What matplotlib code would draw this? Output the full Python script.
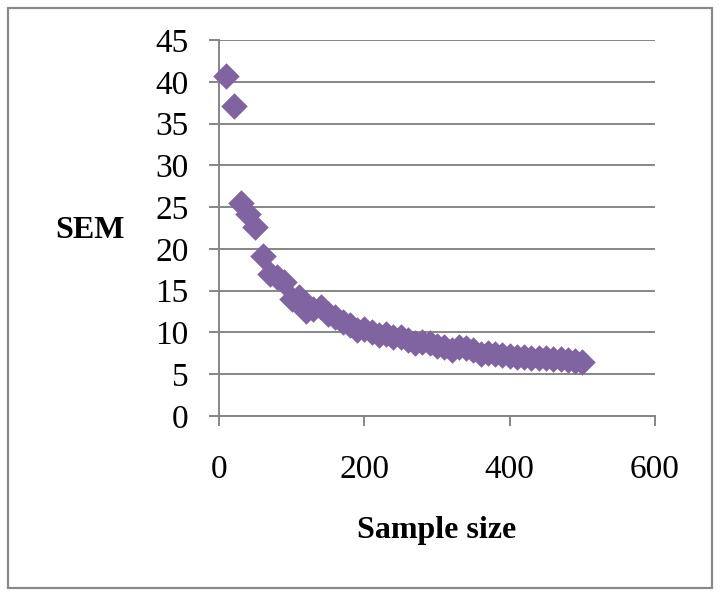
import matplotlib
matplotlib.use("Agg")
import matplotlib.pyplot as plt
from matplotlib.patches import Rectangle

sample_size = [10, 20, 30, 40, 50, 60, 70, 80, 90, 100,
               110, 120, 130, 140, 150, 160, 170, 180, 190, 200,
               210, 220, 230, 240, 250, 260, 270, 280, 290, 300,
               310, 320, 330, 340, 350, 360, 370, 380, 390, 400,
               410, 420, 430, 440, 450, 460, 470, 480, 490, 500]
sem = [40.7, 37.1, 25.5, 24.2, 22.6, 19.1, 17.0, 16.6, 16.0, 14.0,
       14.2, 12.6, 12.8, 13.0, 12.2, 11.8, 11.2, 10.9, 10.3, 10.4,
       10.0, 9.7, 9.8, 9.5, 9.4, 9.1, 8.7, 8.8, 8.7, 8.4,
       8.2, 7.9, 8.2, 8.1, 7.9, 7.4, 7.5, 7.4, 7.3, 7.2,
       7.1, 7.1, 7.0, 6.9, 6.9, 6.8, 6.8, 6.7, 6.6, 6.5]
x_ticks = [0, 200, 400, 600]
y_ticks = [0, 5, 10, 15, 20, 25, 30, 35, 40, 45]
x_label = "Sample size"
y_label = "SEM"

plt.rcParams['font.family'] = ['Liberation Serif', 'DejaVu Serif']

W, H = 720, 596
fig = plt.figure(figsize=(W / 100, H / 100), dpi=100)
ax = fig.add_axes([219 / W, 1 - 416 / H, (655 - 219) / W, (416 - 40) / H])

grid_color = '#868686'
ax.scatter(sample_size, sem, marker='D', s=13.5 ** 2, color='#8064A2',
           linewidths=0, zorder=3, clip_on=False)

ax.set_xlim(0, 600)
ax.set_ylim(0, 45)
ax.set_xticks(x_ticks)
ax.set_yticks(y_ticks)
ax.set_xticklabels([str(v) for v in x_ticks], fontsize=24)
ax.set_yticklabels([str(v) for v in y_ticks], fontsize=24)

ax.yaxis.grid(True, color=grid_color, linewidth=1.4, zorder=0)
ax.set_axisbelow(True)
for side in ['top', 'right']:
    ax.spines[side].set_visible(False)
for side in ['left', 'bottom']:
    ax.spines[side].set_color(grid_color)
    ax.spines[side].set_linewidth(1.4)

ax.tick_params(axis='both', direction='out', color=grid_color, width=1.4,
               length=7, labelcolor='black')
ax.tick_params(axis='x', pad=21)
ax.tick_params(axis='y', pad=15)

fig.text(89.5 / W, 1 - 230 / H, y_label, fontsize=23, fontweight='bold',
         ha='center', va='center')
fig.text(437 / W, 1 - 538 / H, x_label, fontsize=23, fontweight='bold',
         ha='center', va='baseline')

fig.patches.append(Rectangle((8 / W, 8 / H), (712 - 8) / W, (588 - 8) / H,
                             transform=fig.transFigure, fill=False,
                             edgecolor='#8a8a8a', linewidth=1.6))

fig.savefig('out.png', dpi=100)
